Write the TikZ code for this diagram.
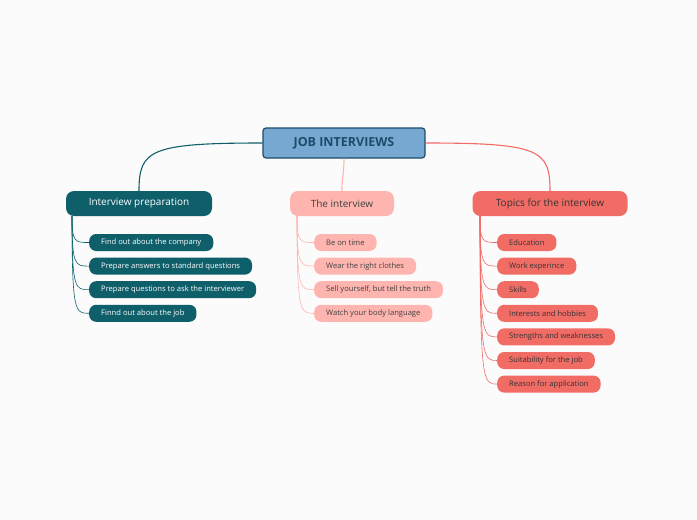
\documentclass[tikz,border=0pt]{standalone}
\usepackage{fontspec}
\setmainfont{Open Sans}
\definecolor{teal}{HTML}{0F5F6B}
\definecolor{pinkl}{HTML}{FFB5AF}
\definecolor{coral}{HTML}{F26C66}
\definecolor{rootf}{HTML}{77A8D2}
\definecolor{rootd}{HTML}{1D4D69}
\definecolor{bg}{HTML}{FBFBFB}
\begin{document}
\begin{tikzpicture}[x=1pt,y=-1pt,
 mainbox/.style={rounded corners=8pt,minimum height=25pt,inner xsep=9pt,font=\fontsize{10}{12}\selectfont},
 subbox/.style={rounded corners=7pt,minimum height=17pt,inner xsep=12pt,anchor=west,font=\fontsize{7.6}{9}\selectfont},
 lnk/.style={line width=1.1pt},
 slnk/.style={line width=0.6pt}]
\fill[bg] (0,0) rectangle (697,520);
\useasboundingbox (0,0) rectangle (697,520);
\node[draw=rootd,line width=1.2pt,fill=rootf,text=rootd,rounded corners=3pt,minimum width=162pt,minimum height=30pt,font=\fontsize{12.5}{14}\selectfont\bfseries] (root) at (344,143) {JOB INTERVIEWS};
\node[mainbox,fill=teal,text=white,minimum width=146pt] (L) at (139,203.5) {Interview preparation};
\node[mainbox,fill=pinkl,text=black!75,minimum width=104pt] (M) at (342,203.5) {The interview};
\node[mainbox,fill=coral,text=black!80,minimum width=155pt] (R) at (550,203.5) {Topics for the interview};
\draw[lnk,teal] (root.west) .. controls (150,143) and (139,150) .. (L.north);
\draw[lnk,pinkl] (root.south) .. controls (344,175) and (342,175) .. (M.north);
\draw[lnk,coral] (root.east) .. controls (540,143) and (550,150) .. (R.north);
\foreach \t [count=\i] in {Find out about the company,Prepare answers to standard questions,Prepare questions to ask the interviewer,Finnd out about the job}{
 \pgfmathsetmacro\yy{242.5+23.6*(\i-1)}
 \node[subbox,fill=teal,text=white] (l\i) at (89,\yy) {\t};
 \draw[slnk,teal] (72,216) .. controls (72,\yy) and (75,\yy) .. (l\i.west);}
\foreach \t [count=\i] in {Be on time,Wear the right clothes,{Sell yourself, but tell the truth},Watch your body language}{
 \pgfmathsetmacro\yy{242.5+23.6*(\i-1)}
 \node[subbox,fill=pinkl,text=black!75] (m\i) at (314,\yy) {\t};
 \draw[slnk,pinkl] (297,216) .. controls (297,\yy) and (300,\yy) .. (m\i.west);}
\foreach \t [count=\i] in {Education,Work experince,Skills,Interests and hobbies,Strengths and weaknesses,Suitability for the job,Reason for application}{
 \pgfmathsetmacro\yy{242.5+23.6*(\i-1)}
 \node[subbox,fill=coral,text=black!80] (r\i) at (497,\yy) {\t};
 \draw[slnk,coral] (480,216) .. controls (480,\yy) and (483,\yy) .. (r\i.west);}
\end{tikzpicture}
\end{document}
